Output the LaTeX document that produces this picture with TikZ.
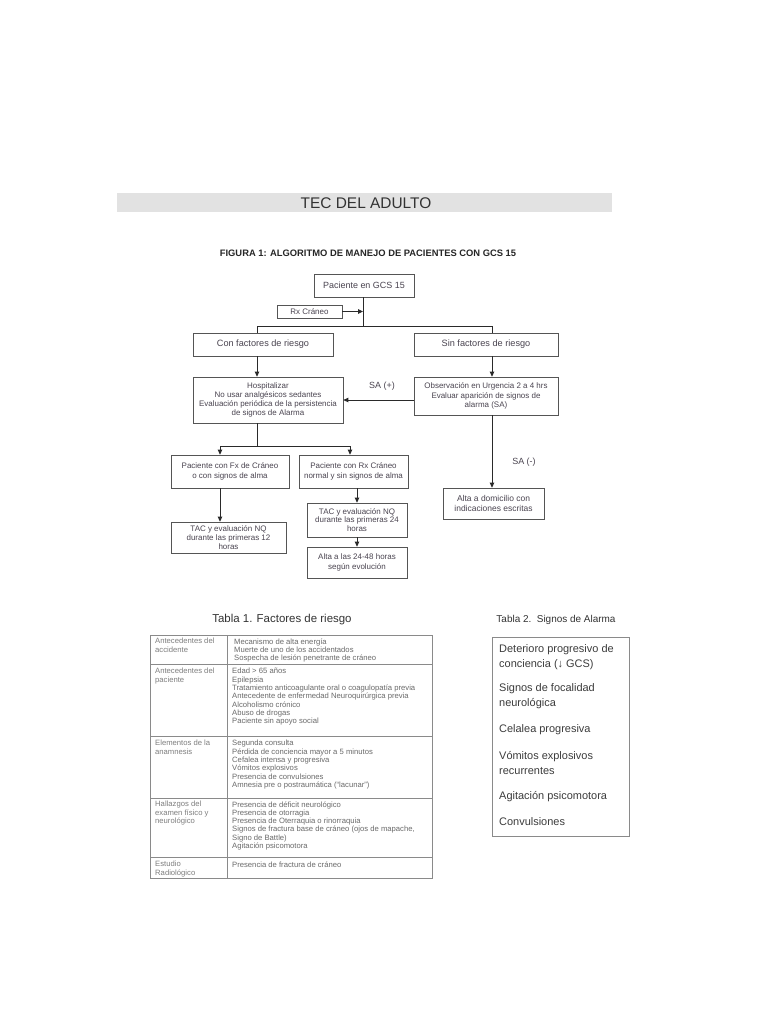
\documentclass[tikz,border=0pt]{standalone}
\usepackage{fontspec}
\setmainfont{Liberation Sans}
\usetikzlibrary{arrows.meta}
\definecolor{txt}{HTML}{4A4450}
\definecolor{boxc}{HTML}{555555}
\definecolor{lnc}{HTML}{2A2A2A}
\definecolor{barc}{HTML}{E2E2E2}
\definecolor{tabc}{HTML}{8A8A8A}
\definecolor{tabt}{HTML}{6A6A6A}
\definecolor{tabl}{HTML}{7E7E7E}
\definecolor{t2}{HTML}{3C3C3C}
\newcommand{\fs}[2]{\fontsize{#1}{#2}\selectfont}
\begin{document}
\begin{tikzpicture}[x=1bp,y=-1bp,
  fbox/.style={draw=boxc, line width=0.7bp, inner sep=1bp, align=center, text=txt},
  conn/.style={draw=lnc, line width=0.9bp},
  arr/.style={conn, -{Triangle[length=5bp,width=4.5bp]}},
  lab/.style={text=txt, inner sep=0pt, font=\fs{9}{11}},
  tcell/.style={anchor=north west, inner sep=0pt, align=left, text=tabt, font=\fs{7.7}{8.3}},
  lcell/.style={tcell, text=tabl},
  t2cell/.style={anchor=north west, inner sep=0pt, align=left, text=t2, font=\fs{11}{15.5}},
  rule/.style={draw=tabc, line width=0.7bp}
]
\useasboundingbox (0,0) rectangle (768,1024);
\fill[white] (0,0) rectangle (768,1024);

% header
\fill[barc] (117,193) rectangle (612,212);
\node[text=black!80, inner sep=0pt, font=\fs{15.5}{18}] (title) at (366,203.5) {TEC DEL ADULTO};
\node[text=black!85, inner sep=0pt, font=\bfseries\fs{9.4}{10}] (fig) at (368,253) {FIGURA 1: ALGORITMO DE MANEJO DE PACIENTES CON GCS 15};

% flowchart boxes
\node[fbox, minimum width=100bp, minimum height=23bp, font=\fs{9}{11}] (gcs) at (364,285.5) {Paciente en GCS 15};
\node[fbox, minimum width=65bp, minimum height=13bp, font=\fs{8}{9}] (rx) at (309.5,311.5) {Rx Cráneo};
\node[fbox, minimum width=140bp, minimum height=23bp, font=\fs{9.2}{11}] (con) at (263,344.5) {Con factores de riesgo};
\node[fbox, minimum width=144bp, minimum height=23bp, font=\fs{9.2}{11}] (sin) at (486,344.5) {Sin factores de riesgo};
\node[fbox, minimum width=150bp, minimum height=46bp, font=\fs{8}{9.3}] (hosp) at (268,400) {Hospitalizar\\No usar analgésicos sedantes\\Evaluación periódica de la persistencia\\de signos de Alarma};
\node[fbox, minimum width=144bp, minimum height=38bp, font=\fs{8}{9.3}] (obs) at (486,396) {Observación en Urgencia 2 a 4 hrs\\Evaluar aparición de signos de\\alarma (SA)};
\node[fbox, minimum width=118bp, minimum height=33bp, font=\fs{8}{10}] (fx) at (230,471.5) {Paciente con Fx de Cráneo\\o con signos de alma};
\node[fbox, minimum width=109bp, minimum height=33bp, font=\fs{8}{10}] (rxn) at (353.5,471.5) {Paciente con Rx Cráneo\\normal y sin signos de alma};
\node[fbox, minimum width=115bp, minimum height=31bp, font=\fs{8}{8.8}] (tac12) at (228.5,537.5) {TAC y evaluación NQ\\durante las primeras 12\\horas};
\node[fbox, minimum width=100bp, minimum height=34bp, font=\fs{8}{8.8}] (tac24) at (357,520) {TAC y evaluación NQ\\durante las primeras 24\\horas};
\node[fbox, minimum width=100bp, minimum height=31bp, font=\fs{8}{10}] (alta48) at (357,562.5) {Alta a las 24-48 horas\\según evolución};
\node[fbox, minimum width=101bp, minimum height=31bp, font=\fs{8.5}{10}] (altadom) at (493.5,503.5) {Alta a domicilio con\\indicaciones escritas};

% connector helper points
\coordinate (c0) at (363,326);
\coordinate (cl) at (257,326);
\coordinate (cr) at (492,326);
\coordinate (ya) at (0,400);
\coordinate (d0) at (257,446);
\coordinate (dl) at (220,446);
\coordinate (dr) at (350,446);

% connectors
\draw[conn] (gcs.south -| c0) -- (c0);
\draw[conn] (cl) -- (cr);
\draw[conn] (cl) -- (cl |- con.north);
\draw[conn] (cr) -- (cr |- sin.north);
\draw[arr] (rx.east) -- (rx.east -| c0);
\draw[arr] (cl |- con.south) -- (cl |- hosp.north);
\draw[arr] (cr |- sin.south) -- (cr |- obs.north);
\draw[arr] (obs.west |- ya) -- (hosp.east |- ya);
\node[lab] (sap) at (382,386) {SA (+)};
\draw[conn] (cl |- hosp.south) -- (d0);
\draw[conn] (dl) -- (dr);
\draw[arr] (dl) -- (dl |- fx.north);
\draw[arr] (dr) -- (dr |- rxn.north);
\draw[arr] (fx.south -| dl) -- (tac12.north -| dl);
\draw[arr] (tac24.north |- rxn.south) -- (tac24.north);
\draw[arr] (tac24.south) -- (alta48.north);
\draw[arr] (cr |- obs.south) -- (cr |- altadom.north);
\node[lab] (sam) at (524,462) {SA (-)};

% Table 1
\node[text=black!80, inner sep=0pt, font=\fs{11.5}{13}] (t1title) at (282,620) {Tabla 1. Factores de riesgo};
\draw[rule] (150,635) rectangle (432,878);
\draw[rule] (227,635) -- (227,878);
\draw[rule] (150,664) -- (432,664);
\draw[rule] (150,736) -- (432,736);
\draw[rule] (150,798) -- (432,798);
\draw[rule] (150,857) -- (432,857);

\node[lcell] (l1) at (155,638.2) {Antecedentes del\\accidente};
\node[tcell] (r1) at (234,638.2) {Mecanismo de alta energía\\Muerte de uno de los accidentados\\Sospecha de lesión penetrante de cráneo};
\node[lcell] (l2) at (155,668.2) {Antecedentes del\\paciente};
\node[tcell] (r2) at (232,668.2) {Edad > 65 años\\Epilepsia\\Tratamiento anticoagulante oral o coagulopatía previa\\Antecedente de enfermedad Neuroquirúrgica previa\\Alcoholismo crónico\\Abuso de drogas\\Paciente sin apoyo social};
\node[lcell] (l3) at (155,740.2) {Elementos de la\\anamnesis};
\node[tcell] (r3) at (232,740.2) {Segunda consulta\\Pérdida de conciencia mayor a 5 minutos\\Cefalea intensa y progresiva\\Vómitos explosivos\\Presencia de convulsiones\\Amnesia pre o postraumática (“lacunar”)};
\node[lcell] (l4) at (155,801.2) {Hallazgos del\\examen físico y\\neurológico};
\node[tcell] (r4) at (232,801.2) {Presencia de déficit neurológico\\Presencia de otorragia\\Presencia de Oterraquia o rinorraquia\\Signos de fractura base de cráneo (ojos de mapache,\\Signo de Battle)\\Agitación psicomotora};
\node[lcell] (l5) at (155,861.2) {Estudio\\Radiológico};
\node[tcell] (r5) at (232,861.2) {Presencia de fractura de cráneo};

% Table 2
\node[text=black!80, inner sep=0pt, font=\fs{10}{12}] (t2title) at (556,620) {Tabla 2.\ \ Signos de Alarma};
\draw[rule] (492,637) rectangle (629,836);
\node[t2cell] (s1) at (499,644) {Deterioro progresivo de\\conciencia (↓ GCS)};
\node[t2cell] (s2) at (499,683) {Signos de focalidad\\neurológica};
\node[t2cell] (s3) at (499,724) {Celalea progresiva};
\node[t2cell] (s4) at (499,751) {Vómitos explosivos\\recurrentes};
\node[t2cell] (s5) at (499,791) {Agitación psicomotora};
\node[t2cell] (s6) at (499,817) {Convulsiones};
\end{tikzpicture}
\end{document}
